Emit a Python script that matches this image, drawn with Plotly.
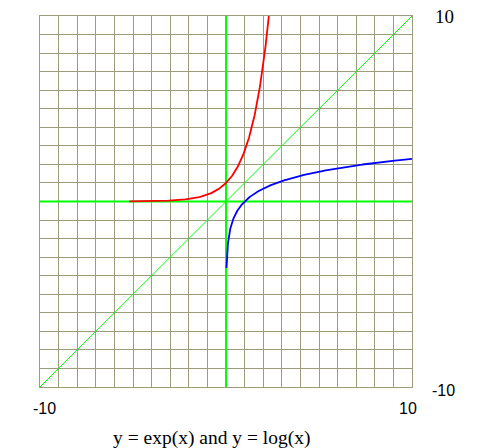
import numpy as np
import plotly.graph_objects as go

# Data
exp_x_start = -5.2
exp_x_end = np.log(10.0)
log_x_start = 0.028
log_x_end = 10.0
axis_min = -10
axis_max = 10
title_text = "y = exp(x) and y = log(x)"

exp_x = np.linspace(exp_x_start, exp_x_end, 400)
exp_y = np.exp(exp_x)
log_x = np.concatenate([np.linspace(log_x_start, 1.0, 300), np.linspace(1.0, log_x_end, 300)])
log_y = np.log(log_x)

diag_x = [axis_min, axis_max]
diag_y = [axis_min, axis_max]

W, H = 477, 448
L, R, T, B = 40, 412, 16, 387

fig = go.Figure()
grid_col = "#9c9c7c"

fig.add_trace(go.Scatter(x=diag_x, y=diag_y, mode="lines",
                         line=dict(color="#00ff00", width=1), hoverinfo="skip"))
fig.add_trace(go.Scatter(x=[axis_min, axis_max], y=[0, 0], mode="lines",
                         line=dict(color="#00ff00", width=2), hoverinfo="skip"))
fig.add_trace(go.Scatter(x=[0, 0], y=[axis_min, axis_max], mode="lines",
                         line=dict(color="#00ff00", width=2), hoverinfo="skip"))
fig.add_trace(go.Scatter(x=exp_x, y=exp_y, mode="lines",
                         line=dict(color="#ff0000", width=1.8)))
fig.add_trace(go.Scatter(x=log_x, y=log_y, mode="lines",
                         line=dict(color="#0000ff", width=1.8)))

axcommon = dict(range=[axis_min, axis_max], dtick=1, tick0=0, showgrid=True,
                gridcolor=grid_col, gridwidth=1, zeroline=False,
                showticklabels=False, ticks="", showline=True, linecolor=grid_col,
                linewidth=1, mirror=True, fixedrange=True)
fig.update_xaxes(**axcommon)
fig.update_yaxes(**axcommon)

def px(xp):
    return (xp - L) / (R - L)

def py(yp):
    return (B - yp) / (B - T)

serif = "Liberation Serif, Times New Roman, serif"
sans = "Liberation Sans, Arial, sans-serif"
ann = [
    dict(text="10", x=px(445), y=py(16), font=dict(family=serif, size=19, color="black")),
    dict(text="-10", x=px(443), y=py(390), font=dict(family=sans, size=16, color="black")),
    dict(text="10", x=px(408), y=py(408), font=dict(family=sans, size=16, color="black")),
    dict(text="-10", x=px(44), y=py(408), font=dict(family=sans, size=16, color="black")),
    dict(text=title_text, x=px(211), y=py(438), font=dict(family=serif, size=19.5, color="black")),
]
for a in ann:
    a.update(xref="paper", yref="paper", showarrow=False, xanchor="center", yanchor="middle")

fig.update_layout(width=W, height=H, margin=dict(l=L, r=W - R, t=T, b=H - B),
                  paper_bgcolor="white", plot_bgcolor="white", showlegend=False,
                  annotations=ann)

fig.write_html("out.html", config={"displayModeBar": False},
               post_script="document.body.style.margin='0px';document.body.style.padding='0px';")
